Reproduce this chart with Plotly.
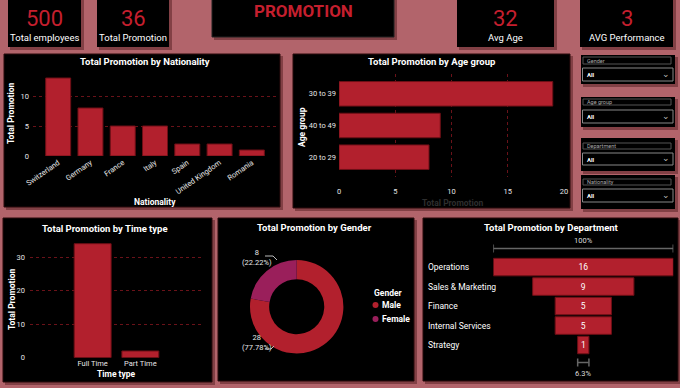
import math
import plotly.graph_objects as go

W, H = 680, 388
BG = "#b2646b"
RED = "#b2202d"
RED_EDGE = "#6e0f16"
FEMALE = "#9a1f5b"
KPI_RED = "#c51f2e"
GRID = "#6a1219"
FONT = "Roboto, sans-serif"

# ---------------- data ----------------
kpi_values = ["500", "36", "32", "3"]
kpi_labels = ["Total employees", "Total Promotion", "Avg Age", "AVG Performance"]

nationality = ["Switzerland", "Germany", "France", "Italy", "Spain", "United Kingdom", "Romania"]
nat_promo = [13, 8, 5, 5, 2, 2, 1]

age_groups = ["30 to 39", "40 to 49", "20 to 29"]
age_promo = [19, 9, 8]

time_types = ["Full Time", "Part Time"]
time_promo = [34, 2]

genders = ["Male", "Female"]
gender_promo = [28, 8]

departments = ["Operations", "Sales & Marketing", "Finance", "Internal Services", "Strategy"]
dept_promo = [16, 9, 5, 5, 1]

slicer_names = ["Gender", "Age group", "Department", "Nationality"]


def X(p):
    return p / W


def Y(p):
    return 1 - p / H


shapes = []
annotations = []


def rect(x0, y0, x1, y1, fill, line=None, lw=0, shadow=False):
    if shadow:
        shapes.append(dict(type="rect", xref="paper", yref="paper", x0=X(x0 + 2), x1=X(x1 + 3),
                           y0=Y(y1 + 3), y1=Y(y0 + 2), fillcolor="rgba(70,20,25,0.45)",
                           line=dict(width=0), layer="below"))
    shapes.append(dict(type="rect", xref="paper", yref="paper", x0=X(x0), x1=X(x1),
                       y0=Y(y1), y1=Y(y0), fillcolor=fill,
                       line=dict(color=line or fill, width=lw), layer="below"))


def text(x, y, s, size=9, color="white", bold=False, xanchor="center", angle=0, family=FONT):
    annotations.append(dict(xref="paper", yref="paper", x=X(x), y=Y(y),
                            text=f"<b>{s}</b>" if bold else s, showarrow=False,
                            xanchor=xanchor, yanchor="middle", textangle=angle,
                            font=dict(size=size, color=color, family=family)))


# ---------------- panels ----------------
kpi_boxes = [(8, 81), (97, 169), (457, 554), (580, 673)]
for (x0, x1), v, lab in zip(kpi_boxes, kpi_values, kpi_labels):
    rect(x0, -2, x1, 47, "black", shadow=True)
    text((x0 + x1) / 2, 18, v, size=22, color=KPI_RED)
    text((x0 + x1) / 2, 38, lab, size=9.5)

rect(212, -2, 394, 37, "black", line="#222", lw=1, shadow=True)
text(303, 11, "PROMOTION", size=17, color=KPI_RED, bold=True)

rect(4, 54, 280, 207, "black", line="#2a0a0d", lw=1, shadow=True)
rect(293, 54, 570, 208, "black", line="#2a0a0d", lw=1, shadow=True)
rect(3, 218, 212, 382, "black", line="#2a0a0d", lw=1, shadow=True)
rect(218, 218, 414, 381, "black", line="#2a0a0d", lw=1, shadow=True)
rect(423, 218, 678, 381, "black", line="#2a0a0d", lw=1, shadow=True)

# slicers
slicer_geo = [(55, 84, 57, 64, 68, 81), (97, 127, 99, 105, 110, 123),
              (138, 171, 143, 149, 153, 165), (175, 209, 179, 185, 189, 202)]
for name, (o0, o1, h0, h1, d0, d1) in zip(slicer_names, slicer_geo):
    rect(581, o0, 675, o1, "black", shadow=True)
    rect(583, h0, 671, h1, "black", line="#555", lw=1)
    rect(582.5, d0, 673, d1, "black", line="#888", lw=1)
    text(585, (h0 + h1) / 2, name, size=5.5, color="#aaa", xanchor="left")
    text(585, (d0 + d1) / 2, "All", size=6, color="white", bold=True, xanchor="left")
    text(666, (d0 + d1) / 2 - 1, "⌄", size=9, color="#bbb")

# ---------------- chart titles / axis titles ----------------
TS = 9.5
text(145, 61, "Total Promotion by Nationality", size=TS, bold=True)
text(432, 61, "Total Promotion by Age group", size=TS, bold=True)
text(105, 228, "Total Promotion by Time type", size=TS, bold=True)
text(314, 227, "Total Promotion by Gender", size=TS, bold=True)
text(551, 227, "Total Promotion by Department", size=TS, bold=True)

text(11, 114, "Total Promotion", size=8.5, bold=True, angle=-90)
text(155, 202, "Nationality", size=8.5, bold=True)
text(302, 127, "Age group", size=8.5, bold=True, angle=-90)
text(452, 203, "Total Promotion", size=8.5, bold=True, color="#2e2e2e")
text(12, 300, "Total Promotion", size=8.5, bold=True, angle=-90)
text(116, 374, "Time type", size=8.5, bold=True)

tickfont = dict(size=7.5, color="#e6e6e6", family=FONT)

fig = go.Figure()

# Nationality bars
fig.add_trace(go.Bar(x=nationality, y=nat_promo, xaxis="x", yaxis="y",
                     marker=dict(color=RED, line=dict(color=RED_EDGE, width=1)), showlegend=False))
# Age group bars
fig.add_trace(go.Bar(x=age_promo, y=age_groups, orientation="h", xaxis="x2", yaxis="y2",
                     marker=dict(color=RED, line=dict(color=RED_EDGE, width=1)), showlegend=False))
# Time type bars
fig.add_trace(go.Bar(x=time_types, y=time_promo, xaxis="x3", yaxis="y3",
                     marker=dict(color=RED, line=dict(color=RED_EDGE, width=1)), showlegend=False))
# Department funnel
fig.add_trace(go.Funnel(y=departments, x=dept_promo, xaxis="x4", yaxis="y4",
                        textinfo="value", textposition="inside",
                        textfont=dict(size=8.5, color="white", family=FONT),
                        insidetextanchor="middle",
                        marker=dict(color=RED, line=dict(color=RED_EDGE, width=1)),
                        connector=dict(visible=False), showlegend=False))
# Gender donut
fig.add_trace(go.Pie(labels=genders, values=gender_promo, hole=0.59, sort=False,
                     direction="clockwise", rotation=0, textinfo="none",
                     marker=dict(colors=[RED, FEMALE], line=dict(width=0)),
                     domain=dict(x=[X(250), X(343.4)], y=[Y(353.4), Y(260)]),
                     showlegend=False, hoverinfo="label+value+percent"))

# donut labels with leader lines
total_g = sum(gender_promo)
lbl = [f"{v}<br>({v / total_g * 100:.2f}%)" for v in gender_promo]
annotations.append(dict(xref="paper", yref="paper", x=X(257), y=Y(354), text=lbl[0], showarrow=False,
                        font=dict(size=7.5, color="#e6e6e6", family=FONT), align="center"))
annotations.append(dict(xref="paper", yref="paper", x=X(257), y=Y(257), text=lbl[1], showarrow=False,
                        font=dict(size=7.5, color="#e6e6e6", family=FONT), align="center"))
for pts in ([(265, 256), (273, 256), (277, 260)], [(265, 349), (271, 349), (274, 346)]):
    path = "M " + " L ".join(f"{X(a)},{Y(b)}" for a, b in pts)
    shapes.append(dict(type="path", xref="paper", yref="paper", path=path,
                       line=dict(color="#bbbbbb", width=1)))

# gender legend
text(372, 293, "Gender", size=8.5, bold=True, xanchor="left")
for i, (g, c) in enumerate(zip(genders, [RED, FEMALE])):
    yy = 305 + i * 14
    shapes.append(dict(type="circle", xref="paper", yref="paper", x0=X(372.5), x1=X(378.5),
                       y0=Y(yy + 3), y1=Y(yy - 3), fillcolor=c, line=dict(width=0)))
    text(380, yy, g, size=8.5, bold=True, xanchor="left")

# department labels (left aligned)
for d in departments:
    annotations.append(dict(xref="paper", yref="y4", x=X(426), y=d, text=d, showarrow=False,
                            xanchor="left", font=dict(size=8.5, color="white", family=FONT)))

# funnel brackets
top_half = max(dept_promo) / 2
bot_half = dept_promo[-1] / 2
pct_last = math.floor(dept_promo[-1] / dept_promo[0] * 1000 + 0.5) / 10
for half, yy in ((top_half, 248.5), (bot_half, 362.5)):
    shapes.append(dict(type="line", xref="x4", yref="paper", x0=-half, x1=half, y0=Y(yy), y1=Y(yy),
                       line=dict(color="#666", width=1.5)))
    for s in (-half, half):
        shapes.append(dict(type="line", xref="x4", yref="paper", x0=s, x1=s, y0=Y(yy - 4), y1=Y(yy + 4),
                           line=dict(color="#666", width=1.5)))
annotations.append(dict(xref="x4", yref="paper", x=0, y=Y(240), text="100%", showarrow=False,
                        yanchor="middle", font=dict(size=7.5, color="#dddddd", family=FONT)))
annotations.append(dict(xref="x4", yref="paper", x=0, y=Y(373), text=f"{pct_last:.1f}%", showarrow=False,
                        yanchor="middle", font=dict(size=7.5, color="#dddddd", family=FONT)))

fig.update_layout(
    width=W, height=H, margin=dict(l=0, r=0, t=0, b=0, autoexpand=False),
    paper_bgcolor=BG, plot_bgcolor="rgba(0,0,0,0)",
    font=dict(family=FONT, color="white"),
    bargap=0.226,
    shapes=shapes, annotations=annotations,
    xaxis=dict(domain=[X(33), X(278)], anchor="y", range=[-0.78, 6.81], tickangle=-35,
               tickfont=tickfont, showgrid=False, zeroline=False, showline=False, ticks="",
               automargin=False),
    yaxis=dict(domain=[Y(156), Y(72)], anchor="x", range=[0, 14], tickvals=[0, 5, 10],
               tickfont=tickfont, gridcolor=GRID, griddash="dot", zeroline=False,
               ticklabelstandoff=3, automargin=False),
    xaxis2=dict(domain=[X(339), X(564)], anchor="y2", range=[0, 20], tickvals=[0, 5, 10, 15, 20],
                tickfont=tickfont, gridcolor=GRID, griddash="dot", zeroline=False,
                ticklabelstandoff=8, automargin=False),
    yaxis2=dict(domain=[Y(177), Y(74)], anchor="x2", range=[2.625, -0.625], tickfont=tickfont,
                showgrid=False, zeroline=False, ticklabelstandoff=2, automargin=False),
    xaxis3=dict(domain=[X(30), X(203)], anchor="y3", range=[-1.313, 2.313], tickfont=tickfont,
                showgrid=False, zeroline=False, automargin=False),
    yaxis3=dict(domain=[Y(357.7), Y(238)], anchor="x3", range=[0, 35.7], tickvals=[0, 10, 20, 30],
                tickfont=tickfont, gridcolor=GRID, griddash="dot", zeroline=False,
                ticklabelstandoff=4, automargin=False),
    xaxis4=dict(domain=[X(493.3), X(673.3)], anchor="y4", range=[-top_half, top_half],
                visible=False, automargin=False),
    yaxis4=dict(domain=[Y(354.8), Y(257.3)], anchor="x4", showticklabels=False, showgrid=False,
                zeroline=False, autorange="reversed", automargin=False),
    funnelgap=0.1,
)

fig.write_html("out.html")
